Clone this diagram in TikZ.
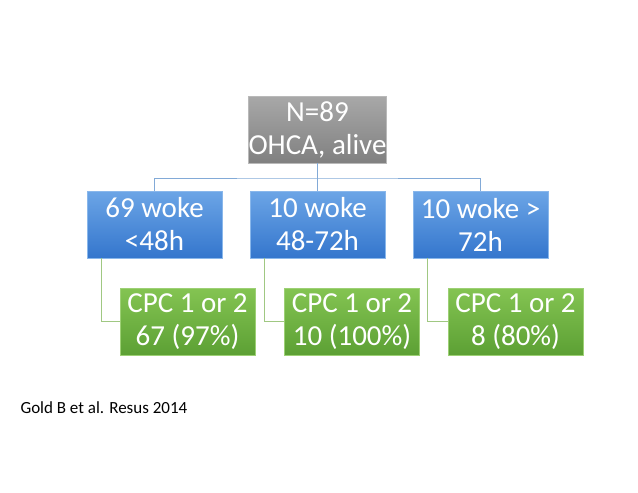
\documentclass[tikz,border=0pt]{standalone}
\usepackage{fontspec}
\setmainfont{Carlito}
\definecolor{gtop}{RGB}{168,168,168}\definecolor{gbot}{RGB}{128,128,128}
\definecolor{btop}{RGB}{108,165,230}\definecolor{bbot}{RGB}{52,118,205}
\definecolor{ntop}{RGB}{132,196,82}\definecolor{nbot}{RGB}{92,160,52}
\definecolor{bline}{RGB}{130,170,215}\definecolor{nline}{RGB}{160,200,130}
\begin{document}
\begin{tikzpicture}[x=1pt,y=-1pt,
 box/.style={minimum width=135pt,minimum height=67pt,inner sep=0pt,text=white,font=\fontsize{29}{33}\selectfont,align=center},
 gray/.style={box,top color=gtop,bottom color=gbot,draw=gtop!80!white},
 blue/.style={box,top color=btop,bottom color=bbot,draw=btop!80!white},
 green/.style={box,top color=ntop,bottom color=nbot,draw=ntop!80!white},
 bl/.style={draw=bline,line width=0.8pt},
 gl/.style={draw=nline,line width=0.8pt}]
\useasboundingbox (0,0) rectangle (638,493);
\node[gray] (top) at (317.5,129.5) {N=89\\OHCA, alive};
\node[blue] (b1) at (154.5,224.5) {69 woke\\<48h};
\node[blue] (b2) at (317.5,224.5) {10 woke\\48-72h};
\node[blue] (b3) at (480.5,224.5) {10 woke >\\72h};
\node[green] (g1) at (187.5,321.5) {CPC 1 or 2\\67 (97\%)};
\node[green] (g2) at (352,321.5) {CPC 1 or 2\\10 (100\%)};
\node[green] (g3) at (515.5,321.5) {CPC 1 or 2\\8 (80\%)};
\coordinate (h) at (317.5,178);
\draw[bl] (top.south) -- (h);
\draw[bl] (b1.north) |- (h) -| (b3.north);
\draw[bl] (h) -- (b2.north);
\draw[gl] ([xshift=-53.5pt]b1.south) |- (g1.west);
\draw[gl] ([xshift=-53.5pt]b2.south) |- (g2.west);
\draw[gl] ([xshift=-53.5pt]b3.south) |- (g3.west);
\node[anchor=west,font=\fontsize{17}{20}\selectfont] (ref) at (17,408) {Gold B et al. Resus 2014};
\end{tikzpicture}
\end{document}
